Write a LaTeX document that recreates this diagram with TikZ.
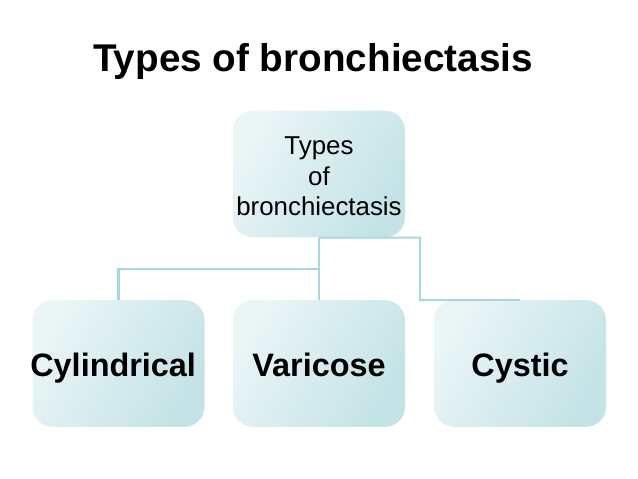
\documentclass[tikz,border=0pt]{standalone}
\usepackage{fontspec}
\setmainfont{Liberation Sans}
\usetikzlibrary{positioning}
\definecolor{brLight}{HTML}{EAF5F6}
\definecolor{brDark}{HTML}{C3E3E7}
\definecolor{brLine}{HTML}{A9D8DC}
\tikzset{
  br box/.style={rounded corners=15pt, left color=brLight, right color=brDark, shading angle=60,
    minimum width=129pt, minimum height=95pt, inner sep=0pt, align=center},
  br link/.style={draw=brLine, line width=1.6pt},
  br title/.style={font=\fontsize{29pt}{34pt}\selectfont\bfseries},
  br type/.style={font=\fontsize{24.3pt}{29pt}\selectfont\bfseries, text height=20pt, text depth=0pt},
  br root/.style={font=\fontsize{19.4pt}{22.8pt}\selectfont},
}

\begin{document}
\begin{tikzpicture}[x=0.75pt,y=0.75pt]
  \useasboundingbox (0,0) rectangle (638,478);
  % heading
  \node[br title] (heading) at (313,416) {Types of bronchiectasis};
  % root box and the three kinds
  \node[br box, br root] (root) at (319,304) {\rule{0pt}{17pt}Types\\of\\bronchiectasis};
  \node[br box, br type] (cyl) at (118.5,114.5) {\hspace*{-8pt}Cylindrical};
  \node[br box, br type] (var) at (319,114.5) {Varicose};
  \node[br box, br type] (cys) at (520,114.5) {Cystic};
  % connectors
  \coordinate (split) at (319,209);
  \coordinate (bend) at (420,178);
  \draw[br link] (root.south) -- (var.north);
  \draw[br link] (split) -| (cyl.north);
  \draw[br link] (root.south) -| (bend) -- (cys.north);
\end{tikzpicture}
\end{document}
